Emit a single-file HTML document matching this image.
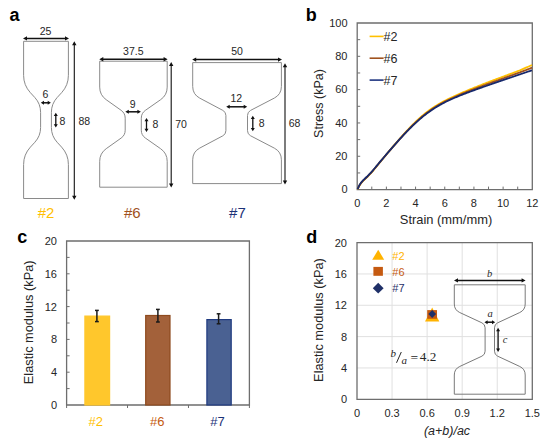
<!DOCTYPE html>
<html><head><meta charset="utf-8"><style>
html,body{margin:0;padding:0;background:#fff;}
svg{display:block;}
</style></head><body>
<svg width="550" height="446" viewBox="0 0 550 446">
<rect width="550" height="446" fill="#fff"/>
<text x="9.6" y="21" font-size="18" text-anchor="start" fill="#000" font-weight="bold" font-style="normal" font-family='"Liberation Sans", sans-serif' >a</text>
<text x="305.8" y="20.6" font-size="18" text-anchor="start" fill="#000" font-weight="bold" font-style="normal" font-family='"Liberation Sans", sans-serif' >b</text>
<text x="17.2" y="242.8" font-size="18" text-anchor="start" fill="#000" font-weight="bold" font-style="normal" font-family='"Liberation Sans", sans-serif' >c</text>
<text x="306.2" y="242.6" font-size="18" text-anchor="start" fill="#000" font-weight="bold" font-style="normal" font-family='"Liberation Sans", sans-serif' >d</text>
<path d="M 23.6 41.3 L 23.6 75.3 Q 23.6 85.3 30.37 92.66 L 34.85 97.54 Q 40.6 103.8 40.6 112.3 L 40.6 127.5 Q 40.6 136 34.85 142.26 L 30.37 147.14 Q 23.6 154.5 23.6 164.5 L 23.6 198.5 Q 23.6 198.5 23.6 198.5 L 68.4 198.5 Q 68.4 198.5 68.4 198.5 L 68.4 164.5 Q 68.4 154.5 61.63 147.14 L 57.15 142.26 Q 51.4 136 51.4 127.5 L 51.4 112.3 Q 51.4 103.8 57.15 97.54 L 61.63 92.66 Q 68.4 85.3 68.4 75.3 L 68.4 41.3 Q 68.4 41.3 68.4 41.3 L 23.6 41.3 Z" fill="none" stroke="#8a8a8a" stroke-width="1"/>
<line x1="26.2" y1="38.4" x2="65.8" y2="38.4" stroke="#111" stroke-width="1.5" />
<path d="M 23 38.4 L 27 36.2 L 27 40.6 Z M 69 38.4 L 65 36.2 L 65 40.6 Z" fill="#111"/>
<text x="45.5" y="35" font-size="10.5" text-anchor="middle" fill="#262626" font-weight="normal" font-style="normal" font-family='"Liberation Sans", sans-serif' >25</text>
<line x1="74.3" y1="44.5" x2="74.3" y2="196.6" stroke="#111" stroke-width="1.1" />
<path d="M 74.3 41.3 L 72.1 45.3 L 76.5 45.3 Z M 74.3 199.8 L 72.1 195.8 L 76.5 195.8 Z" fill="#111"/>
<text x="78.5" y="124.5" font-size="10.5" text-anchor="start" fill="#262626" font-weight="normal" font-style="normal" font-family='"Liberation Sans", sans-serif' >88</text>
<line x1="43.36" y1="102.8" x2="48.34" y2="102.8" stroke="#111" stroke-width="1.5" />
<path d="M 40.8 102.8 L 44 100.8 L 44 104.8 Z M 50.9 102.8 L 47.7 100.8 L 47.7 104.8 Z" fill="#111"/>
<text x="45.4" y="97.6" font-size="10.5" text-anchor="middle" fill="#262626" font-weight="normal" font-style="normal" font-family='"Liberation Sans", sans-serif' >6</text>
<line x1="55.8" y1="115.26" x2="55.8" y2="124.94" stroke="#111" stroke-width="1.3" />
<path d="M 55.8 112.7 L 53.8 115.9 L 57.8 115.9 Z M 55.8 127.5 L 53.8 124.3 L 57.8 124.3 Z" fill="#111"/>
<text x="59.5" y="124.5" font-size="10.5" text-anchor="start" fill="#262626" font-weight="normal" font-style="normal" font-family='"Liberation Sans", sans-serif' >8</text>
<text x="46" y="217.8" font-size="15" text-anchor="middle" fill="#FFC000" font-weight="normal" font-style="normal" font-family='"Liberation Sans", sans-serif' >#2</text>
<path d="M 99.7 61.2 L 99.7 87.1 Q 99.7 95.1 106.22 99.73 L 121.12 110.31 Q 125.2 113.2 125.2 118.2 L 125.2 130.2 Q 125.2 135.2 121.12 138.09 L 106.22 148.67 Q 99.7 153.3 99.7 161.3 L 99.7 187.2 Q 99.7 187.2 99.7 187.2 L 167.2 187.2 Q 167.2 187.2 167.2 187.2 L 167.2 161.3 Q 167.2 153.3 160.64 148.72 L 145.4 138.06 Q 141.3 135.2 141.3 130.2 L 141.3 118.2 Q 141.3 113.2 145.4 110.34 L 160.64 99.68 Q 167.2 95.1 167.2 87.1 L 167.2 61.2 Q 167.2 61.2 167.2 61.2 L 99.7 61.2 Z" fill="none" stroke="#8a8a8a" stroke-width="1"/>
<line x1="102.5" y1="59.3" x2="164.4" y2="59.3" stroke="#111" stroke-width="1.5" />
<path d="M 99.3 59.3 L 103.3 57.1 L 103.3 61.5 Z M 167.6 59.3 L 163.6 57.1 L 163.6 61.5 Z" fill="#111"/>
<text x="133.3" y="54.5" font-size="10.5" text-anchor="middle" fill="#262626" font-weight="normal" font-style="normal" font-family='"Liberation Sans", sans-serif' >37.5</text>
<line x1="171.2" y1="65.2" x2="171.2" y2="184.2" stroke="#111" stroke-width="1.1" />
<path d="M 171.2 62 L 169 66 L 173.4 66 Z M 171.2 187.4 L 169 183.4 L 173.4 183.4 Z" fill="#111"/>
<text x="175.2" y="128" font-size="10.5" text-anchor="start" fill="#262626" font-weight="normal" font-style="normal" font-family='"Liberation Sans", sans-serif' >70</text>
<line x1="128.1" y1="111.8" x2="138.1" y2="111.8" stroke="#111" stroke-width="1.5" />
<path d="M 125.3 111.8 L 128.8 109.8 L 128.8 113.8 Z M 140.9 111.8 L 137.4 109.8 L 137.4 113.8 Z" fill="#111"/>
<text x="132.6" y="107.6" font-size="10.5" text-anchor="middle" fill="#262626" font-weight="normal" font-style="normal" font-family='"Liberation Sans", sans-serif' >9</text>
<line x1="146.5" y1="120.56" x2="146.5" y2="129.44" stroke="#111" stroke-width="1.3" />
<path d="M 146.5 118 L 144.5 121.2 L 148.5 121.2 Z M 146.5 132 L 144.5 128.8 L 148.5 128.8 Z" fill="#111"/>
<text x="152.6" y="127.9" font-size="10.5" text-anchor="start" fill="#262626" font-weight="normal" font-style="normal" font-family='"Liberation Sans", sans-serif' >8</text>
<text x="132.3" y="217.8" font-size="15" text-anchor="middle" fill="#A0521E" font-weight="normal" font-style="normal" font-family='"Liberation Sans", sans-serif' >#6</text>
<path d="M 192.7 62.6 L 192.7 86.4 Q 192.7 94.4 199.77 98.15 L 222.81 110.36 Q 225.9 112 225.9 115.5 L 225.9 130.7 Q 225.9 134.2 222.81 135.84 L 199.77 148.05 Q 192.7 151.8 192.7 159.8 L 192.7 183.6 Q 192.7 183.6 192.7 183.6 L 281.4 183.6 Q 281.4 183.6 281.4 183.6 L 281.4 159.8 Q 281.4 151.8 274.3 148.11 L 250.61 135.81 Q 247.5 134.2 247.5 130.7 L 247.5 115.5 Q 247.5 112 250.61 110.39 L 274.3 98.09 Q 281.4 94.4 281.4 86.4 L 281.4 62.6 Q 281.4 62.6 281.4 62.6 L 192.7 62.6 Z" fill="none" stroke="#8a8a8a" stroke-width="1"/>
<line x1="195.4" y1="59.6" x2="278.8" y2="59.6" stroke="#111" stroke-width="1.5" />
<path d="M 192.2 59.6 L 196.2 57.4 L 196.2 61.8 Z M 282 59.6 L 278 57.4 L 278 61.8 Z" fill="#111"/>
<text x="237" y="55.2" font-size="10.5" text-anchor="middle" fill="#262626" font-weight="normal" font-style="normal" font-family='"Liberation Sans", sans-serif' >50</text>
<line x1="285" y1="66.4" x2="285" y2="181.4" stroke="#111" stroke-width="1.1" />
<path d="M 285 63.2 L 282.8 67.2 L 287.2 67.2 Z M 285 184.6 L 282.8 180.6 L 287.2 180.6 Z" fill="#111"/>
<text x="288.7" y="127.2" font-size="10.5" text-anchor="start" fill="#262626" font-weight="normal" font-style="normal" font-family='"Liberation Sans", sans-serif' >68</text>
<line x1="229" y1="106.8" x2="244.4" y2="106.8" stroke="#111" stroke-width="1.5" />
<path d="M 226.2 106.8 L 229.7 104.8 L 229.7 108.8 Z M 247.2 106.8 L 243.7 104.8 L 243.7 108.8 Z" fill="#111"/>
<text x="236.3" y="101.6" font-size="10.5" text-anchor="middle" fill="#262626" font-weight="normal" font-style="normal" font-family='"Liberation Sans", sans-serif' >12</text>
<line x1="252.8" y1="118.36" x2="252.8" y2="128.64" stroke="#111" stroke-width="1.3" />
<path d="M 252.8 115.8 L 250.8 119 L 254.8 119 Z M 252.8 131.2 L 250.8 128 L 254.8 128 Z" fill="#111"/>
<text x="258.8" y="127" font-size="10.5" text-anchor="start" fill="#262626" font-weight="normal" font-style="normal" font-family='"Liberation Sans", sans-serif' >8</text>
<text x="237.4" y="217.8" font-size="15" text-anchor="middle" fill="#1C3278" font-weight="normal" font-style="normal" font-family='"Liberation Sans", sans-serif' >#7</text>
<path d="M 357.2 23 H 532.3 V 189.6 H 357.2 Z" fill="none" stroke="#6e6e6e" stroke-width="1.3"/>
<line x1="371.79" y1="189.6" x2="371.79" y2="186.6" stroke="#6e6e6e" stroke-width="1" />
<line x1="386.38" y1="189.6" x2="386.38" y2="186.6" stroke="#6e6e6e" stroke-width="1" />
<line x1="400.97" y1="189.6" x2="400.97" y2="186.6" stroke="#6e6e6e" stroke-width="1" />
<line x1="415.57" y1="189.6" x2="415.57" y2="186.6" stroke="#6e6e6e" stroke-width="1" />
<line x1="430.16" y1="189.6" x2="430.16" y2="186.6" stroke="#6e6e6e" stroke-width="1" />
<line x1="444.75" y1="189.6" x2="444.75" y2="186.6" stroke="#6e6e6e" stroke-width="1" />
<line x1="459.34" y1="189.6" x2="459.34" y2="186.6" stroke="#6e6e6e" stroke-width="1" />
<line x1="473.93" y1="189.6" x2="473.93" y2="186.6" stroke="#6e6e6e" stroke-width="1" />
<line x1="488.52" y1="189.6" x2="488.52" y2="186.6" stroke="#6e6e6e" stroke-width="1" />
<line x1="503.12" y1="189.6" x2="503.12" y2="186.6" stroke="#6e6e6e" stroke-width="1" />
<line x1="517.71" y1="189.6" x2="517.71" y2="186.6" stroke="#6e6e6e" stroke-width="1" />
<line x1="357.2" y1="172.94" x2="360.2" y2="172.94" stroke="#6e6e6e" stroke-width="1" />
<line x1="357.2" y1="156.28" x2="360.2" y2="156.28" stroke="#6e6e6e" stroke-width="1" />
<line x1="357.2" y1="139.62" x2="360.2" y2="139.62" stroke="#6e6e6e" stroke-width="1" />
<line x1="357.2" y1="122.96" x2="360.2" y2="122.96" stroke="#6e6e6e" stroke-width="1" />
<line x1="357.2" y1="106.3" x2="360.2" y2="106.3" stroke="#6e6e6e" stroke-width="1" />
<line x1="357.2" y1="89.64" x2="360.2" y2="89.64" stroke="#6e6e6e" stroke-width="1" />
<line x1="357.2" y1="72.98" x2="360.2" y2="72.98" stroke="#6e6e6e" stroke-width="1" />
<line x1="357.2" y1="56.32" x2="360.2" y2="56.32" stroke="#6e6e6e" stroke-width="1" />
<line x1="357.2" y1="39.66" x2="360.2" y2="39.66" stroke="#6e6e6e" stroke-width="1" />
<text x="347.5" y="193.2" font-size="11" text-anchor="end" fill="#262626" font-weight="normal" font-style="normal" font-family='"Liberation Sans", sans-serif' >0</text>
<text x="347.5" y="159.88" font-size="11" text-anchor="end" fill="#262626" font-weight="normal" font-style="normal" font-family='"Liberation Sans", sans-serif' >20</text>
<text x="347.5" y="126.56" font-size="11" text-anchor="end" fill="#262626" font-weight="normal" font-style="normal" font-family='"Liberation Sans", sans-serif' >40</text>
<text x="347.5" y="93.24" font-size="11" text-anchor="end" fill="#262626" font-weight="normal" font-style="normal" font-family='"Liberation Sans", sans-serif' >60</text>
<text x="347.5" y="59.92" font-size="11" text-anchor="end" fill="#262626" font-weight="normal" font-style="normal" font-family='"Liberation Sans", sans-serif' >80</text>
<text x="347.5" y="26.6" font-size="11" text-anchor="end" fill="#262626" font-weight="normal" font-style="normal" font-family='"Liberation Sans", sans-serif' >100</text>
<text x="357.2" y="206.6" font-size="11" text-anchor="middle" fill="#262626" font-weight="normal" font-style="normal" font-family='"Liberation Sans", sans-serif' >0</text>
<text x="386.38" y="206.6" font-size="11" text-anchor="middle" fill="#262626" font-weight="normal" font-style="normal" font-family='"Liberation Sans", sans-serif' >2</text>
<text x="415.57" y="206.6" font-size="11" text-anchor="middle" fill="#262626" font-weight="normal" font-style="normal" font-family='"Liberation Sans", sans-serif' >4</text>
<text x="444.75" y="206.6" font-size="11" text-anchor="middle" fill="#262626" font-weight="normal" font-style="normal" font-family='"Liberation Sans", sans-serif' >6</text>
<text x="473.93" y="206.6" font-size="11" text-anchor="middle" fill="#262626" font-weight="normal" font-style="normal" font-family='"Liberation Sans", sans-serif' >8</text>
<text x="503.12" y="206.6" font-size="11" text-anchor="middle" fill="#262626" font-weight="normal" font-style="normal" font-family='"Liberation Sans", sans-serif' >10</text>
<text x="532.3" y="206.6" font-size="11" text-anchor="middle" fill="#262626" font-weight="normal" font-style="normal" font-family='"Liberation Sans", sans-serif' >12</text>
<text x="446" y="223.8" font-size="12.9" text-anchor="middle" fill="#262626" font-weight="normal" font-style="normal" font-family='"Liberation Sans", sans-serif' >Strain (mm/mm)</text>
<text x="322.5" y="103.5" font-size="12.5" text-anchor="middle" fill="#262626" font-weight="normal" font-style="normal" font-family='"Liberation Sans", sans-serif' transform="rotate(-90 322.5 103.5)">Stress (kPa)</text>
<path d="M 357.60 189.20 L 358.70 187.19 L 359.79 185.11 L 360.89 183.52 L 361.99 182.19 L 363.08 180.98 L 364.18 179.87 L 365.28 178.81 L 366.37 177.81 L 367.47 176.77 L 368.57 175.65 L 369.67 174.49 L 370.76 173.29 L 371.86 172.06 L 372.96 170.82 L 374.05 169.53 L 375.15 168.21 L 376.25 166.84 L 377.34 165.48 L 378.44 164.14 L 379.54 162.79 L 380.63 161.45 L 381.73 160.12 L 382.83 158.78 L 383.92 157.45 L 385.02 156.12 L 386.12 154.80 L 387.22 153.48 L 388.31 152.16 L 389.41 150.85 L 390.51 149.55 L 391.60 148.25 L 392.70 146.95 L 393.80 145.66 L 394.89 144.38 L 395.99 143.09 L 397.09 141.81 L 398.18 140.54 L 399.28 139.28 L 400.38 138.02 L 401.47 136.78 L 402.57 135.55 L 403.67 134.32 L 404.76 133.11 L 405.86 131.91 L 406.96 130.72 L 408.06 129.54 L 409.15 128.37 L 410.25 127.22 L 411.35 126.09 L 412.44 124.97 L 413.54 123.86 L 414.64 122.78 L 415.73 121.70 L 416.83 120.65 L 417.93 119.61 L 419.02 118.59 L 420.12 117.60 L 421.22 116.65 L 422.31 115.73 L 423.41 114.82 L 424.51 113.93 L 425.61 113.06 L 426.70 112.22 L 427.80 111.39 L 428.90 110.58 L 429.99 109.79 L 431.09 109.02 L 432.19 108.26 L 433.28 107.53 L 434.38 106.81 L 435.48 106.11 L 436.57 105.43 L 437.67 104.76 L 438.77 104.11 L 439.86 103.48 L 440.96 102.85 L 442.06 102.25 L 443.15 101.66 L 444.25 101.08 L 445.35 100.51 L 446.45 99.95 L 447.54 99.41 L 448.64 98.87 L 449.74 98.35 L 450.83 97.82 L 451.93 97.29 L 453.03 96.77 L 454.12 96.26 L 455.22 95.75 L 456.32 95.25 L 457.41 94.76 L 458.51 94.27 L 459.61 93.79 L 460.70 93.32 L 461.80 92.85 L 462.90 92.39 L 463.99 91.93 L 465.09 91.47 L 466.19 91.01 L 467.29 90.56 L 468.38 90.10 L 469.48 89.65 L 470.58 89.20 L 471.67 88.75 L 472.77 88.31 L 473.87 87.86 L 474.96 87.42 L 476.06 86.99 L 477.16 86.55 L 478.25 86.11 L 479.35 85.68 L 480.45 85.25 L 481.54 84.82 L 482.64 84.39 L 483.74 83.96 L 484.84 83.53 L 485.93 83.11 L 487.03 82.69 L 488.13 82.27 L 489.22 81.86 L 490.32 81.44 L 491.42 81.03 L 492.51 80.61 L 493.61 80.20 L 494.71 79.79 L 495.80 79.38 L 496.90 78.96 L 498.00 78.55 L 499.09 78.14 L 500.19 77.73 L 501.29 77.32 L 502.38 76.91 L 503.48 76.50 L 504.58 76.09 L 505.68 75.68 L 506.77 75.27 L 507.87 74.86 L 508.97 74.46 L 510.06 74.05 L 511.16 73.64 L 512.26 73.23 L 513.35 72.82 L 514.45 72.42 L 515.55 72.01 L 516.64 71.60 L 517.74 71.19 L 518.84 70.78 L 519.93 70.38 L 521.03 69.89 L 522.13 69.40 L 523.23 68.91 L 524.32 68.42 L 525.42 67.93 L 526.52 67.44 L 527.61 66.95 L 528.71 66.46 L 529.81 65.97 L 530.90 65.48 L 532.00 64.99" fill="none" stroke="#FFC000" stroke-width="1.8" stroke-linejoin="round"/>
<path d="M 357.60 189.20 L 358.70 186.89 L 359.79 184.82 L 360.89 183.23 L 361.99 181.90 L 363.08 180.70 L 364.18 179.59 L 365.28 178.54 L 366.37 177.53 L 367.47 176.50 L 368.57 175.38 L 369.67 174.22 L 370.76 173.03 L 371.86 171.81 L 372.96 170.56 L 374.05 169.28 L 375.15 167.96 L 376.25 166.61 L 377.34 165.28 L 378.44 163.96 L 379.54 162.65 L 380.63 161.33 L 381.73 160.02 L 382.83 158.71 L 383.92 157.40 L 385.02 156.10 L 386.12 154.80 L 387.22 153.51 L 388.31 152.21 L 389.41 150.93 L 390.51 149.65 L 391.60 148.37 L 392.70 147.10 L 393.80 145.83 L 394.89 144.58 L 395.99 143.32 L 397.09 142.06 L 398.18 140.82 L 399.28 139.58 L 400.38 138.35 L 401.47 137.14 L 402.57 135.93 L 403.67 134.73 L 404.76 133.54 L 405.86 132.37 L 406.96 131.20 L 408.06 130.05 L 409.15 128.91 L 410.25 127.79 L 411.35 126.68 L 412.44 125.59 L 413.54 124.51 L 414.64 123.45 L 415.73 122.40 L 416.83 121.37 L 417.93 120.36 L 419.02 119.37 L 420.12 118.40 L 421.22 117.45 L 422.31 116.53 L 423.41 115.63 L 424.51 114.75 L 425.61 113.88 L 426.70 113.04 L 427.80 112.21 L 428.90 111.41 L 429.99 110.62 L 431.09 109.85 L 432.19 109.10 L 433.28 108.37 L 434.38 107.66 L 435.48 106.96 L 436.57 106.28 L 437.67 105.62 L 438.77 104.97 L 439.86 104.34 L 440.96 103.72 L 442.06 103.12 L 443.15 102.53 L 444.25 101.96 L 445.35 101.39 L 446.45 100.84 L 447.54 100.30 L 448.64 99.77 L 449.74 99.25 L 450.83 98.73 L 451.93 98.21 L 453.03 97.71 L 454.12 97.21 L 455.22 96.71 L 456.32 96.23 L 457.41 95.75 L 458.51 95.28 L 459.61 94.81 L 460.70 94.35 L 461.80 93.90 L 462.90 93.45 L 463.99 93.00 L 465.09 92.56 L 466.19 92.12 L 467.29 91.68 L 468.38 91.25 L 469.48 90.82 L 470.58 90.39 L 471.67 89.96 L 472.77 89.54 L 473.87 89.12 L 474.96 88.70 L 476.06 88.29 L 477.16 87.87 L 478.25 87.46 L 479.35 87.05 L 480.45 86.64 L 481.54 86.23 L 482.64 85.82 L 483.74 85.41 L 484.84 85.01 L 485.93 84.60 L 487.03 84.20 L 488.13 83.80 L 489.22 83.40 L 490.32 83.00 L 491.42 82.61 L 492.51 82.21 L 493.61 81.81 L 494.71 81.42 L 495.80 81.02 L 496.90 80.62 L 498.00 80.23 L 499.09 79.83 L 500.19 79.44 L 501.29 79.05 L 502.38 78.65 L 503.48 78.26 L 504.58 77.86 L 505.68 77.47 L 506.77 77.08 L 507.87 76.69 L 508.97 76.29 L 510.06 75.90 L 511.16 75.51 L 512.26 75.12 L 513.35 74.73 L 514.45 74.33 L 515.55 73.94 L 516.64 73.55 L 517.74 73.16 L 518.84 72.77 L 519.93 72.38 L 521.03 71.95 L 522.13 71.52 L 523.23 71.10 L 524.32 70.67 L 525.42 70.25 L 526.52 69.82 L 527.61 69.39 L 528.71 68.97 L 529.81 68.54 L 530.90 68.11 L 532.00 67.69" fill="none" stroke="#A0521E" stroke-width="1.8" stroke-linejoin="round"/>
<path d="M 357.60 189.20 L 358.70 186.60 L 359.79 184.53 L 360.89 182.94 L 361.99 181.61 L 363.08 180.42 L 364.18 179.31 L 365.28 178.26 L 366.37 177.26 L 367.47 176.23 L 368.57 175.12 L 369.67 173.96 L 370.76 172.77 L 371.86 171.55 L 372.96 170.31 L 374.05 169.03 L 375.15 167.71 L 376.25 166.38 L 377.34 165.06 L 378.44 163.76 L 379.54 162.45 L 380.63 161.15 L 381.73 159.85 L 382.83 158.56 L 383.92 157.26 L 385.02 155.98 L 386.12 154.69 L 387.22 153.41 L 388.31 152.13 L 389.41 150.86 L 390.51 149.59 L 391.60 148.33 L 392.70 147.07 L 393.80 145.82 L 394.89 144.57 L 395.99 143.34 L 397.09 142.11 L 398.18 140.88 L 399.28 139.67 L 400.38 138.46 L 401.47 137.27 L 402.57 136.08 L 403.67 134.90 L 404.76 133.74 L 405.86 132.58 L 406.96 131.44 L 408.06 130.31 L 409.15 129.20 L 410.25 128.09 L 411.35 127.01 L 412.44 125.93 L 413.54 124.88 L 414.64 123.84 L 415.73 122.81 L 416.83 121.81 L 417.93 120.82 L 419.02 119.85 L 420.12 118.90 L 421.22 117.96 L 422.31 117.05 L 423.41 116.15 L 424.51 115.28 L 425.61 114.42 L 426.70 113.58 L 427.80 112.77 L 428.90 111.97 L 429.99 111.19 L 431.09 110.43 L 432.19 109.69 L 433.28 108.96 L 434.38 108.25 L 435.48 107.57 L 436.57 106.89 L 437.67 106.24 L 438.77 105.60 L 439.86 104.97 L 440.96 104.36 L 442.06 103.77 L 443.15 103.19 L 444.25 102.62 L 445.35 102.06 L 446.45 101.52 L 447.54 100.98 L 448.64 100.46 L 449.74 99.95 L 450.83 99.44 L 451.93 98.95 L 453.03 98.46 L 454.12 97.98 L 455.22 97.51 L 456.32 97.05 L 457.41 96.59 L 458.51 96.14 L 459.61 95.69 L 460.70 95.25 L 461.80 94.82 L 462.90 94.39 L 463.99 93.96 L 465.09 93.54 L 466.19 93.12 L 467.29 92.71 L 468.38 92.30 L 469.48 91.89 L 470.58 91.48 L 471.67 91.08 L 472.77 90.68 L 473.87 90.28 L 474.96 89.88 L 476.06 89.49 L 477.16 89.10 L 478.25 88.70 L 479.35 88.31 L 480.45 87.93 L 481.54 87.54 L 482.64 87.15 L 483.74 86.77 L 484.84 86.39 L 485.93 86.00 L 487.03 85.62 L 488.13 85.24 L 489.22 84.86 L 490.32 84.48 L 491.42 84.10 L 492.51 83.72 L 493.61 83.35 L 494.71 82.97 L 495.80 82.59 L 496.90 82.22 L 498.00 81.84 L 499.09 81.47 L 500.19 81.09 L 501.29 80.72 L 502.38 80.34 L 503.48 79.97 L 504.58 79.59 L 505.68 79.22 L 506.77 78.85 L 507.87 78.47 L 508.97 78.10 L 510.06 77.73 L 511.16 77.35 L 512.26 76.98 L 513.35 76.61 L 514.45 76.24 L 515.55 75.86 L 516.64 75.49 L 517.74 75.12 L 518.84 74.75 L 519.93 74.37 L 521.03 74.00 L 522.13 73.63 L 523.23 73.26 L 524.32 72.89 L 525.42 72.52 L 526.52 72.14 L 527.61 71.77 L 528.71 71.40 L 529.81 71.03 L 530.90 70.66 L 532.00 70.29" fill="none" stroke="#17296c" stroke-width="1.8" stroke-linejoin="round"/>
<line x1="369.6" y1="36.4" x2="383.6" y2="36.4" stroke="#FFC000" stroke-width="1.6" />
<text x="383.6" y="40.9" font-size="12.5" text-anchor="start" fill="#262626" font-weight="normal" font-style="normal" font-family='"Liberation Sans", sans-serif' >#2</text>
<line x1="369.6" y1="58.2" x2="383.6" y2="58.2" stroke="#A0521E" stroke-width="1.6" />
<text x="383.6" y="62.7" font-size="12.5" text-anchor="start" fill="#262626" font-weight="normal" font-style="normal" font-family='"Liberation Sans", sans-serif' >#6</text>
<line x1="369.6" y1="80.1" x2="383.6" y2="80.1" stroke="#1f3580" stroke-width="1.6" />
<text x="383.6" y="84.6" font-size="12.5" text-anchor="start" fill="#262626" font-weight="normal" font-style="normal" font-family='"Liberation Sans", sans-serif' >#7</text>
<path d="M 66.6 241 H 249.4 V 405 H 66.6 Z" fill="none" stroke="#6e6e6e" stroke-width="1.3"/>
<line x1="66.6" y1="388.6" x2="69.6" y2="388.6" stroke="#6e6e6e" stroke-width="1" />
<line x1="66.6" y1="372.2" x2="69.6" y2="372.2" stroke="#6e6e6e" stroke-width="1" />
<line x1="66.6" y1="355.8" x2="69.6" y2="355.8" stroke="#6e6e6e" stroke-width="1" />
<line x1="66.6" y1="339.4" x2="69.6" y2="339.4" stroke="#6e6e6e" stroke-width="1" />
<line x1="66.6" y1="323" x2="69.6" y2="323" stroke="#6e6e6e" stroke-width="1" />
<line x1="66.6" y1="306.6" x2="69.6" y2="306.6" stroke="#6e6e6e" stroke-width="1" />
<line x1="66.6" y1="290.2" x2="69.6" y2="290.2" stroke="#6e6e6e" stroke-width="1" />
<line x1="66.6" y1="273.8" x2="69.6" y2="273.8" stroke="#6e6e6e" stroke-width="1" />
<line x1="66.6" y1="257.4" x2="69.6" y2="257.4" stroke="#6e6e6e" stroke-width="1" />
<line x1="66.6" y1="405" x2="66.6" y2="408" stroke="#6e6e6e" stroke-width="1" />
<line x1="127.53" y1="405" x2="127.53" y2="408" stroke="#6e6e6e" stroke-width="1" />
<line x1="188.47" y1="405" x2="188.47" y2="408" stroke="#6e6e6e" stroke-width="1" />
<line x1="249.4" y1="405" x2="249.4" y2="408" stroke="#6e6e6e" stroke-width="1" />
<text x="57" y="408.9" font-size="11" text-anchor="end" fill="#262626" font-weight="normal" font-style="normal" font-family='"Liberation Sans", sans-serif' >0</text>
<text x="57" y="376.1" font-size="11" text-anchor="end" fill="#262626" font-weight="normal" font-style="normal" font-family='"Liberation Sans", sans-serif' >4</text>
<text x="57" y="343.3" font-size="11" text-anchor="end" fill="#262626" font-weight="normal" font-style="normal" font-family='"Liberation Sans", sans-serif' >8</text>
<text x="57" y="310.5" font-size="11" text-anchor="end" fill="#262626" font-weight="normal" font-style="normal" font-family='"Liberation Sans", sans-serif' >12</text>
<text x="57" y="277.7" font-size="11" text-anchor="end" fill="#262626" font-weight="normal" font-style="normal" font-family='"Liberation Sans", sans-serif' >16</text>
<text x="57" y="244.9" font-size="11" text-anchor="end" fill="#262626" font-weight="normal" font-style="normal" font-family='"Liberation Sans", sans-serif' >20</text>
<text x="32.6" y="322.3" font-size="12.8" text-anchor="middle" fill="#262626" font-weight="normal" font-style="normal" font-family='"Liberation Sans", sans-serif' transform="rotate(-90 32.6 322.3)">Elastic modulus (kPa)</text>
<rect x="84.9" y="316.1" width="24.7" height="88.9" fill="#FFC72C" stroke="#FFC72C" stroke-width="1.2"/>
<line x1="96.9" y1="310.4" x2="96.9" y2="321.6" stroke="#1a1a1a" stroke-width="1.5" />
<line x1="95" y1="310.4" x2="98.8" y2="310.4" stroke="#1a1a1a" stroke-width="1.5" />
<line x1="95" y1="321.6" x2="98.8" y2="321.6" stroke="#1a1a1a" stroke-width="1.5" />
<rect x="145.7" y="315.5" width="24.3" height="89.5" fill="#A3613A" stroke="#8E4A1E" stroke-width="1.2"/>
<line x1="157.9" y1="309.4" x2="157.9" y2="322" stroke="#1a1a1a" stroke-width="1.5" />
<line x1="156" y1="309.4" x2="159.8" y2="309.4" stroke="#1a1a1a" stroke-width="1.5" />
<line x1="156" y1="322" x2="159.8" y2="322" stroke="#1a1a1a" stroke-width="1.5" />
<rect x="206.9" y="319.6" width="24.3" height="85.4" fill="#4A6192" stroke="#1F3A80" stroke-width="1.2"/>
<line x1="218.6" y1="313.8" x2="218.6" y2="323.8" stroke="#1a1a1a" stroke-width="1.5" />
<line x1="216.7" y1="313.8" x2="220.5" y2="313.8" stroke="#1a1a1a" stroke-width="1.5" />
<line x1="216.7" y1="323.8" x2="220.5" y2="323.8" stroke="#1a1a1a" stroke-width="1.5" />
<text x="95.7" y="425.8" font-size="13" text-anchor="middle" fill="#FFC000" font-weight="normal" font-style="normal" font-family='"Liberation Sans", sans-serif' >#2</text>
<text x="157.3" y="426" font-size="13" text-anchor="middle" fill="#C55A11" font-weight="normal" font-style="normal" font-family='"Liberation Sans", sans-serif' >#6</text>
<text x="217.6" y="426" font-size="13" text-anchor="middle" fill="#1C3278" font-weight="normal" font-style="normal" font-family='"Liberation Sans", sans-serif' >#7</text>
<line x1="392.06" y1="242.6" x2="392.06" y2="399.3" stroke="#e0e0e0" stroke-width="1" />
<line x1="357" y1="367.96" x2="532.3" y2="367.96" stroke="#e0e0e0" stroke-width="1" />
<line x1="427.12" y1="242.6" x2="427.12" y2="399.3" stroke="#e0e0e0" stroke-width="1" />
<line x1="357" y1="336.62" x2="532.3" y2="336.62" stroke="#e0e0e0" stroke-width="1" />
<line x1="462.18" y1="242.6" x2="462.18" y2="399.3" stroke="#e0e0e0" stroke-width="1" />
<line x1="357" y1="305.28" x2="532.3" y2="305.28" stroke="#e0e0e0" stroke-width="1" />
<line x1="497.24" y1="242.6" x2="497.24" y2="399.3" stroke="#e0e0e0" stroke-width="1" />
<line x1="357" y1="273.94" x2="532.3" y2="273.94" stroke="#e0e0e0" stroke-width="1" />
<path d="M 357 242.6 H 532.3 V 399.3 H 357 Z" fill="none" stroke="#6e6e6e" stroke-width="1.3"/>
<text x="347" y="403.2" font-size="11" text-anchor="end" fill="#262626" font-weight="normal" font-style="normal" font-family='"Liberation Sans", sans-serif' >0</text>
<text x="347" y="371.86" font-size="11" text-anchor="end" fill="#262626" font-weight="normal" font-style="normal" font-family='"Liberation Sans", sans-serif' >4</text>
<text x="347" y="340.52" font-size="11" text-anchor="end" fill="#262626" font-weight="normal" font-style="normal" font-family='"Liberation Sans", sans-serif' >8</text>
<text x="347" y="309.18" font-size="11" text-anchor="end" fill="#262626" font-weight="normal" font-style="normal" font-family='"Liberation Sans", sans-serif' >12</text>
<text x="347" y="277.84" font-size="11" text-anchor="end" fill="#262626" font-weight="normal" font-style="normal" font-family='"Liberation Sans", sans-serif' >16</text>
<text x="347" y="246.5" font-size="11" text-anchor="end" fill="#262626" font-weight="normal" font-style="normal" font-family='"Liberation Sans", sans-serif' >20</text>
<text x="357" y="416.8" font-size="11" text-anchor="middle" fill="#262626" font-weight="normal" font-style="normal" font-family='"Liberation Sans", sans-serif' >0</text>
<text x="392.06" y="416.8" font-size="11" text-anchor="middle" fill="#262626" font-weight="normal" font-style="normal" font-family='"Liberation Sans", sans-serif' >0.3</text>
<text x="427.12" y="416.8" font-size="11" text-anchor="middle" fill="#262626" font-weight="normal" font-style="normal" font-family='"Liberation Sans", sans-serif' >0.6</text>
<text x="462.18" y="416.8" font-size="11" text-anchor="middle" fill="#262626" font-weight="normal" font-style="normal" font-family='"Liberation Sans", sans-serif' >0.9</text>
<text x="497.24" y="416.8" font-size="11" text-anchor="middle" fill="#262626" font-weight="normal" font-style="normal" font-family='"Liberation Sans", sans-serif' >1.2</text>
<text x="532.3" y="416.8" font-size="11" text-anchor="middle" fill="#262626" font-weight="normal" font-style="normal" font-family='"Liberation Sans", sans-serif' >1.5</text>
<text x="447" y="434.5" font-size="12.5" text-anchor="middle" fill="#262626" font-weight="normal" font-style="italic" font-family='"Liberation Sans", sans-serif' >(a+b)/ac</text>
<text x="322.6" y="320" font-size="12.8" text-anchor="middle" fill="#262626" font-weight="normal" font-style="normal" font-family='"Liberation Sans", sans-serif' transform="rotate(-90 322.6 320)">Elastic modulus (kPa)</text>
<path d="M 454.3 284.8 L 454.3 304 Q 454.3 310 459.74 312.53 L 481.93 322.83 Q 485.1 324.3 485.1 327.8 L 485.1 351.2 Q 485.1 354.7 481.93 356.17 L 459.74 366.47 Q 454.3 369 454.3 375 L 454.3 394.2 Q 454.3 394.2 454.3 394.2 L 525.2 394.2 Q 525.2 394.2 525.2 394.2 L 525.2 375 Q 525.2 369 519.76 366.47 L 497.67 356.18 Q 494.5 354.7 494.5 351.2 L 494.5 327.8 Q 494.5 324.3 497.67 322.82 L 519.76 312.53 Q 525.2 310 525.2 304 L 525.2 284.8 Q 525.2 284.8 525.2 284.8 L 454.3 284.8 Z" fill="none" stroke="#7a7a7a" stroke-width="1"/>
<line x1="457.2" y1="280.4" x2="522.4" y2="280.4" stroke="#111" stroke-width="1.5" />
<path d="M 454 280.4 L 458 278.2 L 458 282.6 Z M 525.6 280.4 L 521.6 278.2 L 521.6 282.6 Z" fill="#111"/>
<text x="489.5" y="276.5" font-size="10.5" text-anchor="middle" fill="#262626" font-weight="normal" font-style="italic" font-family='"Liberation Serif", serif' >b</text>
<line x1="486.96" y1="322.2" x2="492.64" y2="322.2" stroke="#111" stroke-width="1.5" />
<path d="M 484.4 322.2 L 487.6 320.2 L 487.6 324.2 Z M 495.2 322.2 L 492 320.2 L 492 324.2 Z" fill="#111"/>
<text x="490" y="317.2" font-size="10.5" text-anchor="middle" fill="#262626" font-weight="normal" font-style="italic" font-family='"Liberation Serif", serif' >a</text>
<line x1="498.1" y1="330.6" x2="498.1" y2="349.2" stroke="#111" stroke-width="1.3" />
<path d="M 498.1 327.8 L 496.1 331.3 L 500.1 331.3 Z M 498.1 352 L 496.1 348.5 L 500.1 348.5 Z" fill="#111"/>
<text x="505" y="343.2" font-size="10.5" text-anchor="middle" fill="#262626" font-weight="normal" font-style="italic" font-family='"Liberation Serif", serif' >c</text>
<text x="390.6" y="356.6" font-size="11" text-anchor="start" fill="#262626" font-weight="normal" font-style="italic" font-family='"Liberation Serif", serif' >b</text>
<line x1="396.5" y1="362.8" x2="401.3" y2="352" stroke="#262626" stroke-width="1.0" />
<text x="401.5" y="363.7" font-size="11" text-anchor="start" fill="#262626" font-weight="normal" font-style="italic" font-family='"Liberation Serif", serif' >a</text>
<text x="410.6" y="362" font-size="13.5" text-anchor="start" fill="#262626" font-weight="normal" font-style="normal" font-family='"Liberation Serif", serif' >=</text>
<text x="419.8" y="361" font-size="12" text-anchor="start" fill="#262626" font-weight="normal" font-style="normal" font-family='"Liberation Serif", serif' textLength="16.5" lengthAdjust="spacingAndGlyphs">4.2</text>
<path d="M 378.2 249.7 L 384.2 259.8 L 372.2 259.8 Z" fill="#FFB300"/>
<rect x="373.4" y="266.9" width="9.5" height="8.9" fill="#C55A11"/>
<path d="M 378.2 282.8 L 383.6 288.2 L 378.2 293.6 L 372.8 288.2 Z" fill="#1F3068"/>
<text x="392.3" y="260.1" font-size="11" text-anchor="start" fill="#FFB300" font-weight="normal" font-style="normal" font-family='"Liberation Sans", sans-serif' >#2</text>
<text x="392.3" y="275.8" font-size="11" text-anchor="start" fill="#C55A11" font-weight="normal" font-style="normal" font-family='"Liberation Sans", sans-serif' >#6</text>
<text x="392.3" y="292" font-size="11" text-anchor="start" fill="#1F3068" font-weight="normal" font-style="normal" font-family='"Liberation Sans", sans-serif' >#7</text>
<path d="M 432.2 307.6 L 439.3 321.5 L 425.0 321.5 Z" fill="#FFB300"/>
<rect x="427.2" y="310.1" width="9.8" height="8.7" fill="#C55A11"/>
<path d="M 432.2 309.9 L 436.1 313.9 L 432.2 317.9 L 428.3 313.9 Z" fill="#1F3068"/>
</svg>
</body></html>
